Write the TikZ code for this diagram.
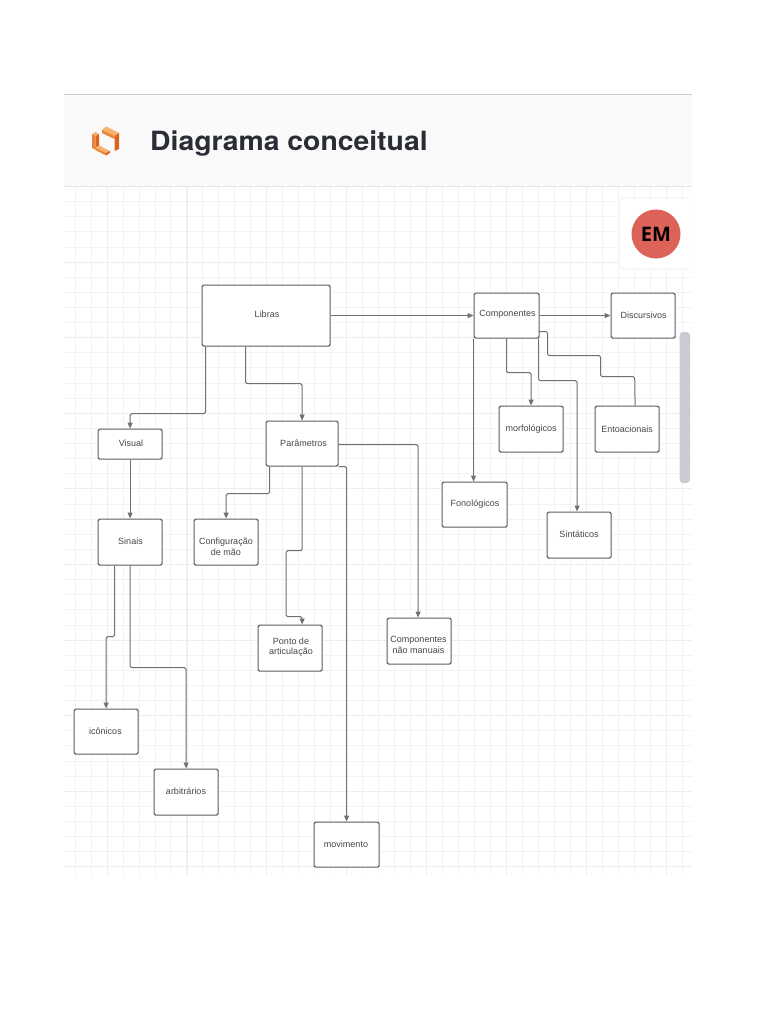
\documentclass[tikz,border=0pt]{standalone}
\usepackage{fontspec}
\setmainfont{Liberation Sans}
\newfontfamily\titlefont[FakeStretch=1.07]{TeX Gyre Heros}
\newfontfamily\badgefont{Open Sans}
\usetikzlibrary{arrows.meta}
\definecolor{linecol}{HTML}{707074}
\definecolor{boxcol}{HTML}{5E5E62}
\definecolor{gridcol}{HTML}{F3F3F5}
\definecolor{gridbig}{HTML}{EEEEF1}
\definecolor{logolight}{HTML}{F6B26E}
\definecolor{logomid}{HTML}{EE8236}
\definecolor{logodark}{HTML}{D9661F}
\definecolor{avatarred}{HTML}{DD6358}
\definecolor{barcol}{HTML}{C9CCD3}
\definecolor{titlecol}{HTML}{2A2D36}
\tikzset{
  concept/.style={draw=boxcol, line width=1.2pt, rounded corners=1.5pt, fill=white, inner sep=0pt, anchor=north west, xshift=-0.5pt, yshift=0.5pt, align=center, font=\fontsize{9}{10.6}\selectfont, text=black!72},
  caption/.style={inner sep=0pt, align=center, font=\fontsize{9}{10.6}\selectfont, text=black!72},
  conn/.style={draw=linecol, line width=1pt, rounded corners=1.5pt},
  arr/.style={conn, -{Triangle[length=6pt,width=5pt]}}
}
\begin{document}
\begin{tikzpicture}[x=1pt,y=-1pt]
  \useasboundingbox (0,0) rectangle (768,1024);
  \fill[white] (0,0) rectangle (768,1024);

  % Draw the grid
  \foreach \k in {0,...,38} \draw[gridcol, line width=0.7pt] (75+15.97*\k,187) -- (75+15.97*\k,875);
  \foreach \k in {-4,...,40} \draw[gridcol, line width=0.7pt] (64,262+15.12*\k) -- (692,262+15.12*\k);
  \foreach \k in {0,...,7} \draw[gridbig, line width=0.7pt] (107+79.85*\k,187) -- (107+79.85*\k,875);
  \foreach \k in {0,...,8} \draw[gridbig, line width=0.7pt] (64,262+75.6*\k) -- (692,262+75.6*\k);

  % Draw the header
  \fill[black!2] (64,95) rectangle (692,186);
  \draw[black!20, line width=1pt] (64,95) -- (692,95);
  \draw[black!11, line width=1pt] (64,186.5) -- (692,186.5);
  \node[anchor=base west, inner sep=0pt, font=\titlefont\bfseries\fontsize{26.5}{30}\selectfont, text=titlecol] (title) at (150,150.5) {Diagrama conceitual};

  % Draw the logo
  \fill[logolight] (102,130) -- (106,126.5) -- (119,133) -- (114.5,136) -- cycle;
  \fill[logomid] (102,130) -- (114.5,136) -- (114.5,139) -- (102,133) -- cycle;
  \fill[logodark] (114.5,136) -- (119,133) -- (119,149) -- (114.5,151) -- cycle;
  \fill[logolight] (92,134) -- (95.5,132) -- (99,134) -- (95.5,136) -- cycle;
  \fill[logomid] (92,134) -- (95.5,136) -- (95.5,150) -- (92,148) -- cycle;
  \fill[logodark] (95.5,136) -- (99,134) -- (99,146) -- (95.5,148) -- cycle;
  \fill[logolight] (95.5,148) -- (99,145.5) -- (110,151) -- (106,153) -- cycle;
  \fill[logomid] (95.5,148) -- (106,153) -- (106,155.5) -- (95.5,150) -- cycle;
  \fill[logodark] (106,153) -- (110,151) -- (110,153) -- (106,155.5) -- cycle;

  % Draw the avatar
  \fill[black!3, rounded corners=5pt] (618.5,197.5) rectangle (692,269.5);
  \fill[white, rounded corners=4pt] (620,199) rectangle (692,268);
  \node[circle, fill=avatarred, minimum size=49pt, inner sep=0pt, font=\badgefont\bfseries\fontsize{20}{24}\selectfont, text=black] (avatar) at (656,234) {EM};
  \fill[barcol, rounded corners=3.5pt] (679.5,332) rectangle (690,483);

  % Draw the concepts
  \node[concept, minimum width=128pt, minimum height=61pt] (Libras) at (202,285) {};
  \node[concept, minimum width=65pt, minimum height=45pt] (Componentes) at (474,293) {};
  \node[concept, minimum width=64pt, minimum height=45pt] (Discursivos) at (611,293) {};
  \node[concept, minimum width=64pt, minimum height=46pt] (morfologicos) at (499,406) {morfológicos};
  \node[concept, minimum width=64pt, minimum height=46pt] (Entoacionais) at (595,406) {Entoacionais};
  \node[concept, minimum width=65pt, minimum height=45pt] (Fonologicos) at (442,482) {};
  \node[concept, minimum width=64pt, minimum height=46pt] (Sintaticos) at (547,512) {};
  \node[concept, minimum width=64pt, minimum height=30pt] (Visual) at (98,429) {};
  \node[concept, minimum width=72pt, minimum height=45pt] (Parametros) at (266,421) {};
  \node[concept, minimum width=64pt, minimum height=46pt] (Sinais) at (98,519) {};
  \node[concept, minimum width=64pt, minimum height=46pt] (Configuracao) at (194,519) {};
  \node[concept, minimum width=64pt, minimum height=46pt] (Ponto) at (258,625) {};
  \node[concept, minimum width=64pt, minimum height=46pt] (Manuais) at (387,618) {};
  \node[concept, minimum width=64pt, minimum height=45pt] (iconicos) at (74,709) {};
  \node[concept, minimum width=64pt, minimum height=46pt] (arbitrarios) at (154,769) {};
  \node[concept, minimum width=65pt, minimum height=45pt] (movimento) at (314,822) {};

  % Labels sit off the box centres
  \node[caption] (LibrasText) at (267,314) {Libras};
  \node[caption] (ComponentesText) at (507.5,314) {Componentes};
  \node[caption] (DiscursivosText) at (643.5,315.5) {Discursivos};
  \node[caption] (FonologicosText) at (475,504.5) {Fonológicos};
  \node[caption] (SintaticosText) at (579,534) {Sintáticos};
  \node[caption] (VisualText) at (131,443.5) {Visual};
  \node[caption] (ParametrosText) at (303.5,443) {Parâmetros};
  \node[caption] (SinaisText) at (130.5,541) {Sinais};
  \node[caption] (ConfiguracaoText) at (226,547) {Configuração\\de mão};
  \node[caption] (PontoText) at (291,647) {Ponto de\\articulação};
  \node[caption] (ManuaisText) at (418.5,645) {Componentes\\não manuais};
  \node[caption] (iconicosText) at (105.5,731) {icônicos};
  \node[caption] (arbitrariosText) at (186,791) {arbitrários};
  \node[caption] (movimentoText) at (346,844) {movimento};

  % Draw the connectors
  \draw[arr] (Libras.east) -- (Componentes.west);
  \draw[arr] (Componentes.east) -- (Discursivos.west);
  \draw[arr] ([xshift=4pt]Libras.south west) -- ++(0,67) -| (Visual.north);
  \draw[arr] ([xshift=44pt]Libras.south west) -- ++(0,37) -| (Parametros.north);
  \draw[arr] (Visual.south) -- (Sinais.north);
  \draw[arr] (Componentes.south west) -- (Componentes.south west |- Fonologicos.north);
  \draw[arr] (Componentes.south) -- ++(0,34) -| (morfologicos.north);
  \draw[arr] ([xshift=-1pt]Componentes.south east) -- ++(0,42) -| ([xshift=-2pt]Sintaticos.north);
  \draw[conn] ([xshift=-1pt,yshift=7pt]Componentes.south east) -- ++(9,0) -- ++(0,24) -- ++(53,0) -- ++(0,21) -- ++(34,0) -- ([xshift=8pt]Entoacionais.north);
  \draw[arr] ([xshift=4pt]Parametros.south west) -- ++(0,27) -| (Configuracao.north);
  \draw[arr] (Parametros.south) -- ++(0,84) -- ++(-16,0) -- ++(0,66) -| ([xshift=12pt]Ponto.north);
  \draw[arr] (Parametros.south east) -| (movimento.north);
  \draw[arr] ([yshift=22pt]Parametros.south east) -| ([xshift=-1pt]Manuais.north);
  \draw[arr] ([xshift=17pt]Sinais.south west) -- ++(0,71) -| (iconicos.north);
  \draw[arr] (Sinais.south) -- ++(0,102) -| (arbitrarios.north);
\end{tikzpicture}
\end{document}
